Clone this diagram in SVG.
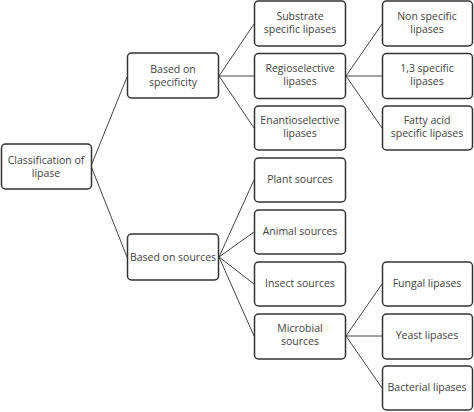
<svg xmlns="http://www.w3.org/2000/svg" width="474" height="412" viewBox="0 0 474 412">
<style>
.box{fill:#fff;stroke:#333;stroke-width:1.5}
.t{font-family:"Open Sans","Liberation Sans",sans-serif;font-size:10.5px;fill:#444;text-anchor:middle}
.c{stroke:#444;stroke-width:1;fill:none}
</style>
<rect width="474" height="412" fill="#fff"/>
<g id="connectors">
<path class="c" d="M91,166 L127,77 M91,166 L127,257"/>
<path class="c" d="M219,76 L254,24 M219,76 L254,76 M219,76 L254,128"/>
<path class="c" d="M346,76 L382,24 M346,76 L382,76 M346,76 L382,128"/>
<path class="c" d="M219,257 L254,180 M219,257 L254,232 M219,257 L254,284 M219,257 L254,336"/>
<path class="c" d="M346,336 L382,284 M346,336 L382,336 M346,336 L382,388"/>
</g>
<g id="root"><rect class="box" x="1.5" y="144" width="90" height="45" rx="4"/><text class="t" x="46" y="164">Classification of</text><text class="t" x="46" y="177">lipase</text></g>
<g id="specificity"><rect class="box" x="127.5" y="53" width="91" height="45" rx="4"/><text class="t" x="173" y="73">Based on</text><text class="t" x="173" y="86">specificity</text></g>
<g id="sources"><rect class="box" x="127.5" y="234" width="91" height="46" rx="4"/><text class="t" x="173" y="261">Based on sources</text></g>
<g id="substrate"><rect class="box" x="254.5" y="1" width="91" height="45" rx="4"/><text class="t" x="300" y="20">Substrate</text><text class="t" x="300" y="33">specific lipases</text></g>
<g id="regio"><rect class="box" x="254.5" y="53.5" width="91" height="45" rx="4"/><text class="t" x="300" y="72">Regioselective</text><text class="t" x="300" y="85">lipases</text></g>
<g id="enantio"><rect class="box" x="254.5" y="106" width="91" height="44" rx="4"/><text class="t" x="300" y="124">Enantioselective</text><text class="t" x="300" y="137">lipases</text></g>
<g id="plant"><rect class="box" x="254.5" y="158" width="91" height="44" rx="4"/><text class="t" x="300" y="183">Plant sources</text></g>
<g id="animal"><rect class="box" x="254.5" y="210" width="91" height="44" rx="4"/><text class="t" x="300" y="235">Animal sources</text></g>
<g id="insect"><rect class="box" x="254.5" y="262" width="91" height="44" rx="4"/><text class="t" x="300" y="287">Insect sources</text></g>
<g id="microbial"><rect class="box" x="254.5" y="314" width="91" height="45" rx="4"/><text class="t" x="300" y="332">Microbial</text><text class="t" x="300" y="345">sources</text></g>
<g id="nonspecific"><rect class="box" x="382.5" y="1" width="90" height="45" rx="4"/><text class="t" x="427" y="20">Non specific</text><text class="t" x="427" y="33">lipases</text></g>
<g id="specific13"><rect class="box" x="382.5" y="53.5" width="90" height="45" rx="4"/><text class="t" x="427" y="72">1,3 specific</text><text class="t" x="427" y="85">lipases</text></g>
<g id="fattyacid"><rect class="box" x="382.5" y="106" width="90" height="44" rx="4"/><text class="t" x="427" y="124">Fatty acid</text><text class="t" x="427" y="137">specific lipases</text></g>
<g id="fungal"><rect class="box" x="382.5" y="262" width="90" height="44" rx="4"/><text class="t" x="427" y="287">Fungal lipases</text></g>
<g id="yeast"><rect class="box" x="382.5" y="314" width="90" height="45" rx="4"/><text class="t" x="427" y="339">Yeast lipases</text></g>
<g id="bacterial"><rect class="box" x="382.5" y="366" width="90" height="44" rx="4"/><text class="t" x="427" y="391">Bacterial lipases</text></g>
</svg>
